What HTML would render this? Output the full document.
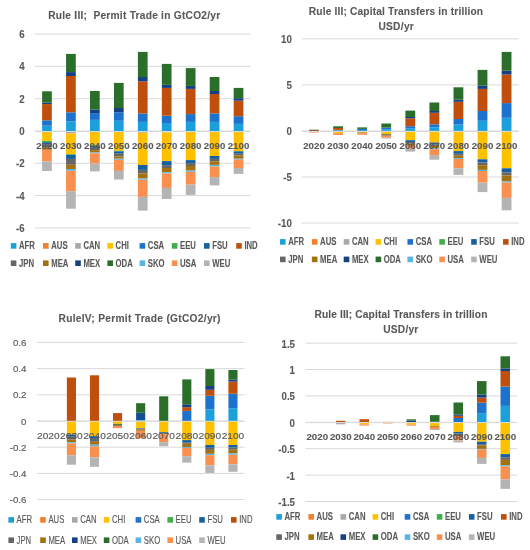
<!DOCTYPE html>
<html><head><meta charset="utf-8"><title>Charts</title>
<style>
html,body{margin:0;padding:0;background:#fff;}
body{width:530px;height:550px;overflow:hidden;}
svg{display:block;font-family:"Liberation Sans",sans-serif;}
svg{will-change:transform;}
</style></head>
<body>
<svg width="530" height="550" viewBox="0 0 530 550">
<defs><filter id="soft" x="0" y="0" width="100%" height="100%"><feGaussianBlur stdDeviation="0.35"/></filter></defs>
<rect x="0" y="0" width="530" height="550" fill="#ffffff"/>
<g filter="url(#soft)">
<rect x="0" y="0" width="530" height="550" fill="#ffffff"/>
<rect x="35.00" y="33.60" width="215.50" height="1" fill="#d9d9d9"/>
<rect x="35.00" y="65.90" width="215.50" height="1" fill="#d9d9d9"/>
<rect x="35.00" y="98.20" width="215.50" height="1" fill="#d9d9d9"/>
<rect x="35.00" y="130.50" width="215.50" height="1" fill="#d9d9d9"/>
<rect x="35.00" y="162.80" width="215.50" height="1" fill="#d9d9d9"/>
<rect x="35.00" y="195.10" width="215.50" height="1" fill="#d9d9d9"/>
<rect x="35.00" y="227.40" width="215.50" height="1" fill="#d9d9d9"/>
<rect x="42.12" y="125.70" width="9.70" height="5.30" fill="#1ea0dc"/>
<rect x="42.12" y="120.30" width="9.70" height="5.40" fill="#1f72cc"/>
<rect x="42.12" y="104.10" width="9.70" height="16.20" fill="#c05008"/>
<rect x="42.12" y="102.50" width="9.70" height="1.60" fill="#143f84"/>
<rect x="42.12" y="91.30" width="9.70" height="11.20" fill="#2a6e2a"/>
<rect x="42.12" y="131.00" width="9.70" height="10.00" fill="#ffc000"/>
<rect x="42.12" y="141.00" width="9.70" height="1.20" fill="#3fae49"/>
<rect x="42.12" y="142.20" width="9.70" height="2.40" fill="#13609f"/>
<rect x="42.12" y="144.60" width="9.70" height="2.80" fill="#666666"/>
<rect x="42.12" y="147.40" width="9.70" height="2.40" fill="#a3710c"/>
<rect x="42.12" y="149.80" width="9.70" height="11.70" fill="#f9904f"/>
<rect x="42.12" y="161.50" width="9.70" height="9.50" fill="#b4b4b4"/>
<rect x="66.07" y="121.40" width="9.70" height="9.60" fill="#1ea0dc"/>
<rect x="66.07" y="112.30" width="9.70" height="9.10" fill="#1f72cc"/>
<rect x="66.07" y="76.00" width="9.70" height="36.30" fill="#c05008"/>
<rect x="66.07" y="72.10" width="9.70" height="3.90" fill="#143f84"/>
<rect x="66.07" y="53.90" width="9.70" height="18.20" fill="#2a6e2a"/>
<rect x="66.07" y="131.00" width="9.70" height="2.50" fill="#a8a8a8"/>
<rect x="66.07" y="133.50" width="9.70" height="20.70" fill="#ffc000"/>
<rect x="66.07" y="154.20" width="9.70" height="0.80" fill="#3fae49"/>
<rect x="66.07" y="155.00" width="9.70" height="3.90" fill="#13609f"/>
<rect x="66.07" y="158.90" width="9.70" height="5.90" fill="#666666"/>
<rect x="66.07" y="164.80" width="9.70" height="4.20" fill="#a3710c"/>
<rect x="66.07" y="169.00" width="9.70" height="1.80" fill="#5cb4e6"/>
<rect x="66.07" y="170.80" width="9.70" height="20.40" fill="#f9904f"/>
<rect x="66.07" y="191.20" width="9.70" height="17.50" fill="#b4b4b4"/>
<rect x="90.01" y="119.90" width="9.70" height="11.10" fill="#1ea0dc"/>
<rect x="90.01" y="113.10" width="9.70" height="6.80" fill="#1f72cc"/>
<rect x="90.01" y="109.50" width="9.70" height="3.60" fill="#143f84"/>
<rect x="90.01" y="91.00" width="9.70" height="18.50" fill="#2a6e2a"/>
<rect x="90.01" y="131.00" width="9.70" height="14.10" fill="#ffc000"/>
<rect x="90.01" y="145.10" width="9.70" height="0.90" fill="#3fae49"/>
<rect x="90.01" y="146.00" width="9.70" height="1.40" fill="#13609f"/>
<rect x="90.01" y="147.40" width="9.70" height="2.70" fill="#666666"/>
<rect x="90.01" y="150.10" width="9.70" height="2.30" fill="#a3710c"/>
<rect x="90.01" y="152.40" width="9.70" height="0.90" fill="#5cb4e6"/>
<rect x="90.01" y="153.30" width="9.70" height="10.20" fill="#f9904f"/>
<rect x="90.01" y="163.50" width="9.70" height="7.90" fill="#b4b4b4"/>
<rect x="113.96" y="120.80" width="9.70" height="10.20" fill="#1ea0dc"/>
<rect x="113.96" y="112.30" width="9.70" height="8.50" fill="#1f72cc"/>
<rect x="113.96" y="108.00" width="9.70" height="4.30" fill="#143f84"/>
<rect x="113.96" y="82.90" width="9.70" height="25.10" fill="#2a6e2a"/>
<rect x="113.96" y="131.00" width="9.70" height="19.70" fill="#ffc000"/>
<rect x="113.96" y="150.70" width="9.70" height="0.60" fill="#3fae49"/>
<rect x="113.96" y="151.30" width="9.70" height="2.40" fill="#13609f"/>
<rect x="113.96" y="153.70" width="9.70" height="2.80" fill="#666666"/>
<rect x="113.96" y="156.50" width="9.70" height="2.20" fill="#a3710c"/>
<rect x="113.96" y="158.70" width="9.70" height="1.10" fill="#5cb4e6"/>
<rect x="113.96" y="159.80" width="9.70" height="11.10" fill="#f9904f"/>
<rect x="113.96" y="170.90" width="9.70" height="8.60" fill="#b4b4b4"/>
<rect x="137.90" y="121.90" width="9.70" height="9.10" fill="#1ea0dc"/>
<rect x="137.90" y="113.40" width="9.70" height="8.50" fill="#1f72cc"/>
<rect x="137.90" y="81.40" width="9.70" height="32.00" fill="#c05008"/>
<rect x="137.90" y="77.00" width="9.70" height="4.40" fill="#143f84"/>
<rect x="137.90" y="51.90" width="9.70" height="25.10" fill="#2a6e2a"/>
<rect x="137.90" y="131.00" width="9.70" height="1.80" fill="#a8a8a8"/>
<rect x="137.90" y="132.80" width="9.70" height="32.20" fill="#ffc000"/>
<rect x="137.90" y="165.00" width="9.70" height="4.90" fill="#13609f"/>
<rect x="137.90" y="169.90" width="9.70" height="3.60" fill="#666666"/>
<rect x="137.90" y="173.50" width="9.70" height="5.00" fill="#a3710c"/>
<rect x="137.90" y="178.50" width="9.70" height="1.30" fill="#5cb4e6"/>
<rect x="137.90" y="179.80" width="9.70" height="17.10" fill="#f9904f"/>
<rect x="137.90" y="196.90" width="9.70" height="13.70" fill="#b4b4b4"/>
<rect x="161.84" y="123.00" width="9.70" height="8.00" fill="#1ea0dc"/>
<rect x="161.84" y="115.70" width="9.70" height="7.30" fill="#1f72cc"/>
<rect x="161.84" y="87.90" width="9.70" height="27.80" fill="#c05008"/>
<rect x="161.84" y="84.80" width="9.70" height="3.10" fill="#143f84"/>
<rect x="161.84" y="63.90" width="9.70" height="20.90" fill="#2a6e2a"/>
<rect x="161.84" y="131.00" width="9.70" height="1.50" fill="#a8a8a8"/>
<rect x="161.84" y="132.50" width="9.70" height="28.60" fill="#ffc000"/>
<rect x="161.84" y="161.10" width="9.70" height="4.00" fill="#13609f"/>
<rect x="161.84" y="165.10" width="9.70" height="2.90" fill="#666666"/>
<rect x="161.84" y="168.00" width="9.70" height="4.20" fill="#a3710c"/>
<rect x="161.84" y="172.20" width="9.70" height="1.30" fill="#5cb4e6"/>
<rect x="161.84" y="173.50" width="9.70" height="14.40" fill="#f9904f"/>
<rect x="161.84" y="187.90" width="9.70" height="11.10" fill="#b4b4b4"/>
<rect x="185.79" y="121.90" width="9.70" height="9.10" fill="#1ea0dc"/>
<rect x="185.79" y="114.10" width="9.70" height="7.80" fill="#1f72cc"/>
<rect x="185.79" y="88.90" width="9.70" height="25.20" fill="#c05008"/>
<rect x="185.79" y="85.90" width="9.70" height="3.00" fill="#143f84"/>
<rect x="185.79" y="68.10" width="9.70" height="17.80" fill="#2a6e2a"/>
<rect x="185.79" y="131.00" width="9.70" height="29.10" fill="#ffc000"/>
<rect x="185.79" y="160.10" width="9.70" height="3.00" fill="#13609f"/>
<rect x="185.79" y="163.10" width="9.70" height="2.90" fill="#666666"/>
<rect x="185.79" y="166.00" width="9.70" height="4.50" fill="#a3710c"/>
<rect x="185.79" y="170.50" width="9.70" height="1.40" fill="#5cb4e6"/>
<rect x="185.79" y="171.90" width="9.70" height="12.70" fill="#f9904f"/>
<rect x="185.79" y="184.60" width="9.70" height="10.30" fill="#b4b4b4"/>
<rect x="209.73" y="121.90" width="9.70" height="9.10" fill="#1ea0dc"/>
<rect x="209.73" y="113.40" width="9.70" height="8.50" fill="#1f72cc"/>
<rect x="209.73" y="94.00" width="9.70" height="19.40" fill="#c05008"/>
<rect x="209.73" y="91.00" width="9.70" height="3.00" fill="#143f84"/>
<rect x="209.73" y="77.00" width="9.70" height="14.00" fill="#2a6e2a"/>
<rect x="209.73" y="131.00" width="9.70" height="25.00" fill="#ffc000"/>
<rect x="209.73" y="156.00" width="9.70" height="2.90" fill="#13609f"/>
<rect x="209.73" y="158.90" width="9.70" height="2.40" fill="#666666"/>
<rect x="209.73" y="161.30" width="9.70" height="3.60" fill="#a3710c"/>
<rect x="209.73" y="164.90" width="9.70" height="1.60" fill="#5cb4e6"/>
<rect x="209.73" y="166.50" width="9.70" height="10.60" fill="#f9904f"/>
<rect x="209.73" y="177.10" width="9.70" height="8.30" fill="#b4b4b4"/>
<rect x="233.68" y="123.90" width="9.70" height="7.10" fill="#1ea0dc"/>
<rect x="233.68" y="116.20" width="9.70" height="7.70" fill="#1f72cc"/>
<rect x="233.68" y="100.70" width="9.70" height="15.50" fill="#c05008"/>
<rect x="233.68" y="98.20" width="9.70" height="2.50" fill="#143f84"/>
<rect x="233.68" y="87.90" width="9.70" height="10.30" fill="#2a6e2a"/>
<rect x="233.68" y="131.00" width="9.70" height="20.30" fill="#ffc000"/>
<rect x="233.68" y="151.30" width="9.70" height="2.40" fill="#13609f"/>
<rect x="233.68" y="153.70" width="9.70" height="1.80" fill="#666666"/>
<rect x="233.68" y="155.50" width="9.70" height="3.20" fill="#a3710c"/>
<rect x="233.68" y="158.70" width="9.70" height="0.90" fill="#5cb4e6"/>
<rect x="233.68" y="159.60" width="9.70" height="8.40" fill="#f9904f"/>
<rect x="233.68" y="168.00" width="9.70" height="5.90" fill="#b4b4b4"/>
<rect x="35.00" y="131.00" width="215.50" height="1.10" fill="#d9d9d9"/>
<text x="24.60" y="38.16" font-size="10.5" font-weight="bold" stroke="#595959" stroke-width="0.1" text-anchor="end" textLength="5.4" lengthAdjust="spacingAndGlyphs" fill="#595959">6</text>
<text x="24.60" y="70.46" font-size="10.5" font-weight="bold" stroke="#595959" stroke-width="0.1" text-anchor="end" textLength="5.4" lengthAdjust="spacingAndGlyphs" fill="#595959">4</text>
<text x="24.60" y="102.76" font-size="10.5" font-weight="bold" stroke="#595959" stroke-width="0.1" text-anchor="end" textLength="5.4" lengthAdjust="spacingAndGlyphs" fill="#595959">2</text>
<text x="24.60" y="135.06" font-size="10.5" font-weight="bold" stroke="#595959" stroke-width="0.1" text-anchor="end" textLength="5.4" lengthAdjust="spacingAndGlyphs" fill="#595959">0</text>
<text x="24.60" y="167.36" font-size="10.5" font-weight="bold" stroke="#595959" stroke-width="0.1" text-anchor="end" textLength="8.6" lengthAdjust="spacingAndGlyphs" fill="#595959">-2</text>
<text x="24.60" y="199.66" font-size="10.5" font-weight="bold" stroke="#595959" stroke-width="0.1" text-anchor="end" textLength="8.6" lengthAdjust="spacingAndGlyphs" fill="#595959">-4</text>
<text x="24.60" y="231.96" font-size="10.5" font-weight="bold" stroke="#595959" stroke-width="0.1" text-anchor="end" textLength="8.6" lengthAdjust="spacingAndGlyphs" fill="#595959">-6</text>
<text x="46.97" y="149.00" font-size="9.4" font-weight="bold" stroke="#595959" stroke-width="0.1" text-anchor="middle" textLength="21.6" lengthAdjust="spacingAndGlyphs" fill="#595959">2020</text>
<text x="70.92" y="149.00" font-size="9.4" font-weight="bold" stroke="#595959" stroke-width="0.1" text-anchor="middle" textLength="21.6" lengthAdjust="spacingAndGlyphs" fill="#595959">2030</text>
<text x="94.86" y="149.00" font-size="9.4" font-weight="bold" stroke="#595959" stroke-width="0.1" text-anchor="middle" textLength="21.6" lengthAdjust="spacingAndGlyphs" fill="#595959">2040</text>
<text x="118.81" y="149.00" font-size="9.4" font-weight="bold" stroke="#595959" stroke-width="0.1" text-anchor="middle" textLength="21.6" lengthAdjust="spacingAndGlyphs" fill="#595959">2050</text>
<text x="142.75" y="149.00" font-size="9.4" font-weight="bold" stroke="#595959" stroke-width="0.1" text-anchor="middle" textLength="21.6" lengthAdjust="spacingAndGlyphs" fill="#595959">2060</text>
<text x="166.69" y="149.00" font-size="9.4" font-weight="bold" stroke="#595959" stroke-width="0.1" text-anchor="middle" textLength="21.6" lengthAdjust="spacingAndGlyphs" fill="#595959">2070</text>
<text x="190.64" y="149.00" font-size="9.4" font-weight="bold" stroke="#595959" stroke-width="0.1" text-anchor="middle" textLength="21.6" lengthAdjust="spacingAndGlyphs" fill="#595959">2080</text>
<text x="214.58" y="149.00" font-size="9.4" font-weight="bold" stroke="#595959" stroke-width="0.1" text-anchor="middle" textLength="21.6" lengthAdjust="spacingAndGlyphs" fill="#595959">2090</text>
<text x="238.53" y="149.00" font-size="9.4" font-weight="bold" stroke="#595959" stroke-width="0.1" text-anchor="middle" textLength="21.6" lengthAdjust="spacingAndGlyphs" fill="#595959">2100</text>
<text x="48.20" y="18.60" font-size="10.2" font-weight="bold" stroke="#595959" stroke-width="0.1" text-anchor="start" textLength="172.0" lengthAdjust="spacing" fill="#595959">Rule III;&#160; Permit Trade in GtCO2/yr</text>
<rect x="10.80" y="243.10" width="5.60" height="5.60" fill="#1ea0dc"/>
<text x="19.00" y="249.20" font-size="10" font-weight="bold" stroke="#595959" stroke-width="0.1" text-anchor="start" textLength="15.9" lengthAdjust="spacingAndGlyphs" fill="#595959">AFR</text>
<rect x="43.00" y="243.10" width="5.60" height="5.60" fill="#f27f2a"/>
<text x="51.20" y="249.20" font-size="10" font-weight="bold" stroke="#595959" stroke-width="0.1" text-anchor="start" textLength="16.4" lengthAdjust="spacingAndGlyphs" fill="#595959">AUS</text>
<rect x="75.20" y="243.10" width="5.60" height="5.60" fill="#a8a8a8"/>
<text x="83.40" y="249.20" font-size="10" font-weight="bold" stroke="#595959" stroke-width="0.1" text-anchor="start" textLength="16.8" lengthAdjust="spacingAndGlyphs" fill="#595959">CAN</text>
<rect x="107.40" y="243.10" width="5.60" height="5.60" fill="#ffc000"/>
<text x="115.60" y="249.20" font-size="10" font-weight="bold" stroke="#595959" stroke-width="0.1" text-anchor="start" textLength="13.3" lengthAdjust="spacingAndGlyphs" fill="#595959">CHI</text>
<rect x="139.60" y="243.10" width="5.60" height="5.60" fill="#1f72cc"/>
<text x="147.80" y="249.20" font-size="10" font-weight="bold" stroke="#595959" stroke-width="0.1" text-anchor="start" textLength="16.4" lengthAdjust="spacingAndGlyphs" fill="#595959">CSA</text>
<rect x="171.80" y="243.10" width="5.60" height="5.60" fill="#3fae49"/>
<text x="180.00" y="249.20" font-size="10" font-weight="bold" stroke="#595959" stroke-width="0.1" text-anchor="start" textLength="15.9" lengthAdjust="spacingAndGlyphs" fill="#595959">EEU</text>
<rect x="204.00" y="243.10" width="5.60" height="5.60" fill="#13609f"/>
<text x="212.20" y="249.20" font-size="10" font-weight="bold" stroke="#595959" stroke-width="0.1" text-anchor="start" textLength="15.5" lengthAdjust="spacingAndGlyphs" fill="#595959">FSU</text>
<rect x="236.20" y="243.10" width="5.60" height="5.60" fill="#c05008"/>
<text x="244.40" y="249.20" font-size="10" font-weight="bold" stroke="#595959" stroke-width="0.1" text-anchor="start" textLength="13.3" lengthAdjust="spacingAndGlyphs" fill="#595959">IND</text>
<rect x="10.80" y="260.40" width="5.60" height="5.60" fill="#666666"/>
<text x="19.00" y="266.50" font-size="10" font-weight="bold" stroke="#595959" stroke-width="0.1" text-anchor="start" textLength="15.1" lengthAdjust="spacingAndGlyphs" fill="#595959">JPN</text>
<rect x="43.00" y="260.40" width="5.60" height="5.60" fill="#a3710c"/>
<text x="51.20" y="266.50" font-size="10" font-weight="bold" stroke="#595959" stroke-width="0.1" text-anchor="start" textLength="17.2" lengthAdjust="spacingAndGlyphs" fill="#595959">MEA</text>
<rect x="75.20" y="260.40" width="5.60" height="5.60" fill="#143f84"/>
<text x="83.40" y="266.50" font-size="10" font-weight="bold" stroke="#595959" stroke-width="0.1" text-anchor="start" textLength="16.8" lengthAdjust="spacingAndGlyphs" fill="#595959">MEX</text>
<rect x="107.40" y="260.40" width="5.60" height="5.60" fill="#2a6e2a"/>
<text x="115.60" y="266.50" font-size="10" font-weight="bold" stroke="#595959" stroke-width="0.1" text-anchor="start" textLength="17.2" lengthAdjust="spacingAndGlyphs" fill="#595959">ODA</text>
<rect x="139.60" y="260.40" width="5.60" height="5.60" fill="#5cb4e6"/>
<text x="147.80" y="266.50" font-size="10" font-weight="bold" stroke="#595959" stroke-width="0.1" text-anchor="start" textLength="16.8" lengthAdjust="spacingAndGlyphs" fill="#595959">SKO</text>
<rect x="171.80" y="260.40" width="5.60" height="5.60" fill="#f9904f"/>
<text x="180.00" y="266.50" font-size="10" font-weight="bold" stroke="#595959" stroke-width="0.1" text-anchor="start" textLength="16.4" lengthAdjust="spacingAndGlyphs" fill="#595959">USA</text>
<rect x="204.00" y="260.40" width="5.60" height="5.60" fill="#b4b4b4"/>
<text x="212.20" y="266.50" font-size="10" font-weight="bold" stroke="#595959" stroke-width="0.1" text-anchor="start" textLength="18.1" lengthAdjust="spacingAndGlyphs" fill="#595959">WEU</text>
<rect x="302.00" y="38.35" width="216.60" height="1" fill="#d9d9d9"/>
<rect x="302.00" y="84.40" width="216.60" height="1" fill="#d9d9d9"/>
<rect x="302.00" y="130.45" width="216.60" height="1" fill="#d9d9d9"/>
<rect x="302.00" y="176.50" width="216.60" height="1" fill="#d9d9d9"/>
<rect x="302.00" y="222.55" width="216.60" height="1" fill="#d9d9d9"/>
<rect x="309.13" y="130.00" width="9.80" height="0.95" fill="#7d5034"/>
<rect x="309.13" y="129.20" width="9.80" height="0.80" fill="#b9cba0"/>
<rect x="309.13" y="130.95" width="9.80" height="1.85" fill="#f5ae88"/>
<rect x="333.20" y="130.50" width="9.80" height="0.45" fill="#1ea0dc"/>
<rect x="333.20" y="129.90" width="9.80" height="0.60" fill="#1f72cc"/>
<rect x="333.20" y="128.00" width="9.80" height="1.90" fill="#c05008"/>
<rect x="333.20" y="126.30" width="9.80" height="1.70" fill="#2a6e2a"/>
<rect x="333.20" y="130.95" width="9.80" height="2.25" fill="#ffc000"/>
<rect x="333.20" y="133.20" width="9.80" height="1.80" fill="#f9904f"/>
<rect x="357.27" y="130.00" width="9.80" height="0.95" fill="#1ea0dc"/>
<rect x="357.27" y="128.90" width="9.80" height="1.10" fill="#1f72cc"/>
<rect x="357.27" y="127.40" width="9.80" height="1.50" fill="#2a6e2a"/>
<rect x="357.27" y="130.95" width="9.80" height="1.55" fill="#ffc000"/>
<rect x="357.27" y="132.50" width="9.80" height="0.70" fill="#a3710c"/>
<rect x="357.27" y="133.20" width="9.80" height="1.60" fill="#f9904f"/>
<rect x="381.33" y="129.30" width="9.80" height="1.65" fill="#1ea0dc"/>
<rect x="381.33" y="127.60" width="9.80" height="1.70" fill="#1f72cc"/>
<rect x="381.33" y="123.50" width="9.80" height="4.10" fill="#2a6e2a"/>
<rect x="381.33" y="130.95" width="9.80" height="0.95" fill="#a8a8a8"/>
<rect x="381.33" y="131.90" width="9.80" height="2.00" fill="#ffc000"/>
<rect x="381.33" y="133.90" width="9.80" height="1.90" fill="#8c7d52"/>
<rect x="381.33" y="135.80" width="9.80" height="1.90" fill="#f9904f"/>
<rect x="381.33" y="137.70" width="9.80" height="0.80" fill="#b4b4b4"/>
<rect x="405.40" y="128.20" width="9.80" height="2.75" fill="#1ea0dc"/>
<rect x="405.40" y="126.20" width="9.80" height="2.00" fill="#1f72cc"/>
<rect x="405.40" y="118.30" width="9.80" height="7.90" fill="#c05008"/>
<rect x="405.40" y="117.00" width="9.80" height="1.30" fill="#143f84"/>
<rect x="405.40" y="110.60" width="9.80" height="6.40" fill="#2a6e2a"/>
<rect x="405.40" y="130.95" width="9.80" height="9.25" fill="#ffc000"/>
<rect x="405.40" y="140.20" width="9.80" height="1.80" fill="#13609f"/>
<rect x="405.40" y="142.00" width="9.80" height="1.50" fill="#666666"/>
<rect x="405.40" y="143.50" width="9.80" height="1.50" fill="#a3710c"/>
<rect x="405.40" y="145.00" width="9.80" height="3.80" fill="#f9904f"/>
<rect x="405.40" y="148.80" width="9.80" height="2.80" fill="#b4b4b4"/>
<rect x="429.47" y="127.30" width="9.80" height="3.65" fill="#1ea0dc"/>
<rect x="429.47" y="124.30" width="9.80" height="3.00" fill="#1f72cc"/>
<rect x="429.47" y="112.80" width="9.80" height="11.50" fill="#c05008"/>
<rect x="429.47" y="111.00" width="9.80" height="1.80" fill="#143f84"/>
<rect x="429.47" y="102.50" width="9.80" height="8.50" fill="#2a6e2a"/>
<rect x="429.47" y="130.95" width="9.80" height="11.55" fill="#ffc000"/>
<rect x="429.47" y="142.50" width="9.80" height="2.00" fill="#13609f"/>
<rect x="429.47" y="144.50" width="9.80" height="1.50" fill="#666666"/>
<rect x="429.47" y="146.00" width="9.80" height="2.30" fill="#a3710c"/>
<rect x="429.47" y="148.30" width="9.80" height="0.90" fill="#5cb4e6"/>
<rect x="429.47" y="149.20" width="9.80" height="5.90" fill="#f9904f"/>
<rect x="429.47" y="155.10" width="9.80" height="4.60" fill="#b4b4b4"/>
<rect x="453.53" y="124.60" width="9.80" height="6.35" fill="#1ea0dc"/>
<rect x="453.53" y="119.00" width="9.80" height="5.60" fill="#1f72cc"/>
<rect x="453.53" y="101.80" width="9.80" height="17.20" fill="#c05008"/>
<rect x="453.53" y="99.60" width="9.80" height="2.20" fill="#143f84"/>
<rect x="453.53" y="87.30" width="9.80" height="12.30" fill="#2a6e2a"/>
<rect x="453.53" y="130.95" width="9.80" height="20.15" fill="#ffc000"/>
<rect x="453.53" y="151.10" width="9.80" height="2.70" fill="#13609f"/>
<rect x="453.53" y="153.80" width="9.80" height="1.90" fill="#666666"/>
<rect x="453.53" y="155.70" width="9.80" height="2.40" fill="#a3710c"/>
<rect x="453.53" y="158.10" width="9.80" height="0.90" fill="#5cb4e6"/>
<rect x="453.53" y="159.00" width="9.80" height="9.30" fill="#f9904f"/>
<rect x="453.53" y="168.30" width="9.80" height="6.60" fill="#b4b4b4"/>
<rect x="477.60" y="120.80" width="9.80" height="10.15" fill="#1ea0dc"/>
<rect x="477.60" y="111.00" width="9.80" height="9.80" fill="#1f72cc"/>
<rect x="477.60" y="88.90" width="9.80" height="22.10" fill="#c05008"/>
<rect x="477.60" y="85.60" width="9.80" height="3.30" fill="#143f84"/>
<rect x="477.60" y="69.90" width="9.80" height="15.70" fill="#2a6e2a"/>
<rect x="477.60" y="130.95" width="9.80" height="28.35" fill="#ffc000"/>
<rect x="477.60" y="159.30" width="9.80" height="3.20" fill="#13609f"/>
<rect x="477.60" y="162.50" width="9.80" height="2.70" fill="#666666"/>
<rect x="477.60" y="165.20" width="9.80" height="4.70" fill="#a3710c"/>
<rect x="477.60" y="169.90" width="9.80" height="1.10" fill="#5cb4e6"/>
<rect x="477.60" y="171.00" width="9.80" height="11.60" fill="#f9904f"/>
<rect x="477.60" y="182.60" width="9.80" height="9.50" fill="#b4b4b4"/>
<rect x="501.67" y="117.80" width="9.80" height="13.15" fill="#1ea0dc"/>
<rect x="501.67" y="103.10" width="9.80" height="14.70" fill="#1f72cc"/>
<rect x="501.67" y="74.50" width="9.80" height="28.60" fill="#c05008"/>
<rect x="501.67" y="70.70" width="9.80" height="3.80" fill="#143f84"/>
<rect x="501.67" y="51.90" width="9.80" height="18.80" fill="#2a6e2a"/>
<rect x="501.67" y="130.95" width="9.80" height="37.35" fill="#ffc000"/>
<rect x="501.67" y="168.30" width="9.80" height="4.00" fill="#13609f"/>
<rect x="501.67" y="172.30" width="9.80" height="3.20" fill="#666666"/>
<rect x="501.67" y="175.50" width="9.80" height="6.00" fill="#a3710c"/>
<rect x="501.67" y="181.50" width="9.80" height="1.10" fill="#5cb4e6"/>
<rect x="501.67" y="182.60" width="9.80" height="15.30" fill="#f9904f"/>
<rect x="501.67" y="197.90" width="9.80" height="12.40" fill="#b4b4b4"/>
<rect x="302.00" y="130.95" width="216.60" height="1.00" fill="#d9d9d9"/>
<text x="291.80" y="42.61" font-size="10.5" font-weight="bold" stroke="#595959" stroke-width="0.1" text-anchor="end" textLength="10.8" lengthAdjust="spacingAndGlyphs" fill="#595959">10</text>
<text x="291.80" y="88.66" font-size="10.5" font-weight="bold" stroke="#595959" stroke-width="0.1" text-anchor="end" textLength="5.4" lengthAdjust="spacingAndGlyphs" fill="#595959">5</text>
<text x="291.80" y="134.71" font-size="10.5" font-weight="bold" stroke="#595959" stroke-width="0.1" text-anchor="end" textLength="5.4" lengthAdjust="spacingAndGlyphs" fill="#595959">0</text>
<text x="291.80" y="180.76" font-size="10.5" font-weight="bold" stroke="#595959" stroke-width="0.1" text-anchor="end" textLength="8.6" lengthAdjust="spacingAndGlyphs" fill="#595959">-5</text>
<text x="291.80" y="226.81" font-size="10.5" font-weight="bold" stroke="#595959" stroke-width="0.1" text-anchor="end" textLength="14.0" lengthAdjust="spacingAndGlyphs" fill="#595959">-10</text>
<text x="314.03" y="149.00" font-size="9.4" font-weight="bold" stroke="#595959" stroke-width="0.1" text-anchor="middle" textLength="21.6" lengthAdjust="spacingAndGlyphs" fill="#595959">2020</text>
<text x="338.10" y="149.00" font-size="9.4" font-weight="bold" stroke="#595959" stroke-width="0.1" text-anchor="middle" textLength="21.6" lengthAdjust="spacingAndGlyphs" fill="#595959">2030</text>
<text x="362.17" y="149.00" font-size="9.4" font-weight="bold" stroke="#595959" stroke-width="0.1" text-anchor="middle" textLength="21.6" lengthAdjust="spacingAndGlyphs" fill="#595959">2040</text>
<text x="386.23" y="149.00" font-size="9.4" font-weight="bold" stroke="#595959" stroke-width="0.1" text-anchor="middle" textLength="21.6" lengthAdjust="spacingAndGlyphs" fill="#595959">2050</text>
<text x="410.30" y="149.00" font-size="9.4" font-weight="bold" stroke="#595959" stroke-width="0.1" text-anchor="middle" textLength="21.6" lengthAdjust="spacingAndGlyphs" fill="#595959">2060</text>
<text x="434.37" y="149.00" font-size="9.4" font-weight="bold" stroke="#595959" stroke-width="0.1" text-anchor="middle" textLength="21.6" lengthAdjust="spacingAndGlyphs" fill="#595959">2070</text>
<text x="458.43" y="149.00" font-size="9.4" font-weight="bold" stroke="#595959" stroke-width="0.1" text-anchor="middle" textLength="21.6" lengthAdjust="spacingAndGlyphs" fill="#595959">2080</text>
<text x="482.50" y="149.00" font-size="9.4" font-weight="bold" stroke="#595959" stroke-width="0.1" text-anchor="middle" textLength="21.6" lengthAdjust="spacingAndGlyphs" fill="#595959">2090</text>
<text x="506.57" y="149.00" font-size="9.4" font-weight="bold" stroke="#595959" stroke-width="0.1" text-anchor="middle" textLength="21.6" lengthAdjust="spacingAndGlyphs" fill="#595959">2100</text>
<text x="308.80" y="14.90" font-size="10.2" font-weight="bold" stroke="#595959" stroke-width="0.1" text-anchor="start" textLength="174.2" lengthAdjust="spacing" fill="#595959">Rule III; Capital Transfers in trillion</text>
<text x="378.40" y="30.20" font-size="10.2" font-weight="bold" stroke="#595959" stroke-width="0.1" text-anchor="start" textLength="35.4" lengthAdjust="spacing" fill="#595959">USD/yr</text>
<rect x="280.00" y="239.10" width="5.60" height="5.60" fill="#1ea0dc"/>
<text x="288.20" y="245.20" font-size="10" font-weight="bold" stroke="#595959" stroke-width="0.1" text-anchor="start" textLength="15.9" lengthAdjust="spacingAndGlyphs" fill="#595959">AFR</text>
<rect x="311.86" y="239.10" width="5.60" height="5.60" fill="#f27f2a"/>
<text x="320.06" y="245.20" font-size="10" font-weight="bold" stroke="#595959" stroke-width="0.1" text-anchor="start" textLength="16.4" lengthAdjust="spacingAndGlyphs" fill="#595959">AUS</text>
<rect x="343.72" y="239.10" width="5.60" height="5.60" fill="#a8a8a8"/>
<text x="351.92" y="245.20" font-size="10" font-weight="bold" stroke="#595959" stroke-width="0.1" text-anchor="start" textLength="16.8" lengthAdjust="spacingAndGlyphs" fill="#595959">CAN</text>
<rect x="375.58" y="239.10" width="5.60" height="5.60" fill="#ffc000"/>
<text x="383.78" y="245.20" font-size="10" font-weight="bold" stroke="#595959" stroke-width="0.1" text-anchor="start" textLength="13.3" lengthAdjust="spacingAndGlyphs" fill="#595959">CHI</text>
<rect x="407.44" y="239.10" width="5.60" height="5.60" fill="#1f72cc"/>
<text x="415.64" y="245.20" font-size="10" font-weight="bold" stroke="#595959" stroke-width="0.1" text-anchor="start" textLength="16.4" lengthAdjust="spacingAndGlyphs" fill="#595959">CSA</text>
<rect x="439.30" y="239.10" width="5.60" height="5.60" fill="#3fae49"/>
<text x="447.50" y="245.20" font-size="10" font-weight="bold" stroke="#595959" stroke-width="0.1" text-anchor="start" textLength="15.9" lengthAdjust="spacingAndGlyphs" fill="#595959">EEU</text>
<rect x="471.16" y="239.10" width="5.60" height="5.60" fill="#13609f"/>
<text x="479.36" y="245.20" font-size="10" font-weight="bold" stroke="#595959" stroke-width="0.1" text-anchor="start" textLength="15.5" lengthAdjust="spacingAndGlyphs" fill="#595959">FSU</text>
<rect x="503.02" y="239.10" width="5.60" height="5.60" fill="#c05008"/>
<text x="511.22" y="245.20" font-size="10" font-weight="bold" stroke="#595959" stroke-width="0.1" text-anchor="start" textLength="13.3" lengthAdjust="spacingAndGlyphs" fill="#595959">IND</text>
<rect x="280.00" y="256.60" width="5.60" height="5.60" fill="#666666"/>
<text x="288.20" y="262.70" font-size="10" font-weight="bold" stroke="#595959" stroke-width="0.1" text-anchor="start" textLength="15.1" lengthAdjust="spacingAndGlyphs" fill="#595959">JPN</text>
<rect x="311.86" y="256.60" width="5.60" height="5.60" fill="#a3710c"/>
<text x="320.06" y="262.70" font-size="10" font-weight="bold" stroke="#595959" stroke-width="0.1" text-anchor="start" textLength="17.2" lengthAdjust="spacingAndGlyphs" fill="#595959">MEA</text>
<rect x="343.72" y="256.60" width="5.60" height="5.60" fill="#143f84"/>
<text x="351.92" y="262.70" font-size="10" font-weight="bold" stroke="#595959" stroke-width="0.1" text-anchor="start" textLength="16.8" lengthAdjust="spacingAndGlyphs" fill="#595959">MEX</text>
<rect x="375.58" y="256.60" width="5.60" height="5.60" fill="#2a6e2a"/>
<text x="383.78" y="262.70" font-size="10" font-weight="bold" stroke="#595959" stroke-width="0.1" text-anchor="start" textLength="17.2" lengthAdjust="spacingAndGlyphs" fill="#595959">ODA</text>
<rect x="407.44" y="256.60" width="5.60" height="5.60" fill="#5cb4e6"/>
<text x="415.64" y="262.70" font-size="10" font-weight="bold" stroke="#595959" stroke-width="0.1" text-anchor="start" textLength="16.8" lengthAdjust="spacingAndGlyphs" fill="#595959">SKO</text>
<rect x="439.30" y="256.60" width="5.60" height="5.60" fill="#f9904f"/>
<text x="447.50" y="262.70" font-size="10" font-weight="bold" stroke="#595959" stroke-width="0.1" text-anchor="start" textLength="16.4" lengthAdjust="spacingAndGlyphs" fill="#595959">USA</text>
<rect x="471.16" y="256.60" width="5.60" height="5.60" fill="#b4b4b4"/>
<text x="479.36" y="262.70" font-size="10" font-weight="bold" stroke="#595959" stroke-width="0.1" text-anchor="start" textLength="18.1" lengthAdjust="spacingAndGlyphs" fill="#595959">WEU</text>
<rect x="36.80" y="341.90" width="207.70" height="1" fill="#d9d9d9"/>
<rect x="36.80" y="368.10" width="207.70" height="1" fill="#d9d9d9"/>
<rect x="36.80" y="394.30" width="207.70" height="1" fill="#d9d9d9"/>
<rect x="36.80" y="420.50" width="207.70" height="1" fill="#d9d9d9"/>
<rect x="36.80" y="446.70" width="207.70" height="1" fill="#d9d9d9"/>
<rect x="36.80" y="472.90" width="207.70" height="1" fill="#d9d9d9"/>
<rect x="36.80" y="499.10" width="207.70" height="1" fill="#d9d9d9"/>
<rect x="66.87" y="377.50" width="9.10" height="43.50" fill="#c05008"/>
<rect x="66.87" y="421.00" width="9.10" height="13.50" fill="#ffc000"/>
<rect x="66.87" y="434.50" width="9.10" height="2.20" fill="#13609f"/>
<rect x="66.87" y="436.70" width="9.10" height="2.90" fill="#666666"/>
<rect x="66.87" y="439.60" width="9.10" height="2.60" fill="#a3710c"/>
<rect x="66.87" y="442.20" width="9.10" height="1.20" fill="#5cb4e6"/>
<rect x="66.87" y="443.40" width="9.10" height="11.80" fill="#f9904f"/>
<rect x="66.87" y="455.20" width="9.10" height="9.50" fill="#b4b4b4"/>
<rect x="89.94" y="375.30" width="9.10" height="45.70" fill="#c05008"/>
<rect x="89.94" y="421.00" width="9.10" height="15.20" fill="#ffc000"/>
<rect x="89.94" y="436.20" width="9.10" height="2.60" fill="#13609f"/>
<rect x="89.94" y="438.80" width="9.10" height="3.00" fill="#666666"/>
<rect x="89.94" y="441.80" width="9.10" height="2.90" fill="#a3710c"/>
<rect x="89.94" y="444.70" width="9.10" height="1.70" fill="#5cb4e6"/>
<rect x="89.94" y="446.40" width="9.10" height="11.00" fill="#f9904f"/>
<rect x="89.94" y="457.40" width="9.10" height="9.40" fill="#b4b4b4"/>
<rect x="113.02" y="413.10" width="9.10" height="7.90" fill="#c05008"/>
<rect x="113.02" y="421.00" width="9.10" height="2.90" fill="#ffc000"/>
<rect x="113.02" y="423.90" width="9.10" height="2.00" fill="#6e7640"/>
<rect x="113.02" y="425.90" width="9.10" height="2.20" fill="#f9904f"/>
<rect x="136.10" y="420.00" width="9.10" height="1.00" fill="#5cb4e6"/>
<rect x="136.10" y="412.80" width="9.10" height="7.20" fill="#134e95"/>
<rect x="136.10" y="403.20" width="9.10" height="9.60" fill="#2a6e2a"/>
<rect x="136.10" y="421.00" width="9.10" height="7.40" fill="#ffc000"/>
<rect x="136.10" y="428.40" width="9.10" height="1.00" fill="#13609f"/>
<rect x="136.10" y="429.40" width="9.10" height="1.40" fill="#a3710c"/>
<rect x="136.10" y="430.80" width="9.10" height="7.50" fill="#f9904f"/>
<rect x="159.18" y="396.30" width="9.10" height="24.70" fill="#2a6e2a"/>
<rect x="159.18" y="421.00" width="9.10" height="11.20" fill="#ffc000"/>
<rect x="159.18" y="432.20" width="9.10" height="1.00" fill="#13609f"/>
<rect x="159.18" y="433.20" width="9.10" height="1.00" fill="#a3710c"/>
<rect x="159.18" y="434.20" width="9.10" height="7.90" fill="#f9904f"/>
<rect x="159.18" y="442.10" width="9.10" height="4.20" fill="#b4b4b4"/>
<rect x="182.26" y="410.90" width="9.10" height="10.10" fill="#1f72cc"/>
<rect x="182.26" y="407.20" width="9.10" height="3.70" fill="#c05008"/>
<rect x="182.26" y="404.30" width="9.10" height="2.90" fill="#143f84"/>
<rect x="182.26" y="379.40" width="9.10" height="24.90" fill="#2a6e2a"/>
<rect x="182.26" y="421.00" width="9.10" height="19.10" fill="#ffc000"/>
<rect x="182.26" y="440.10" width="9.10" height="2.60" fill="#13609f"/>
<rect x="182.26" y="442.70" width="9.10" height="1.10" fill="#666666"/>
<rect x="182.26" y="443.80" width="9.10" height="3.30" fill="#a3710c"/>
<rect x="182.26" y="447.10" width="9.10" height="0.90" fill="#5cb4e6"/>
<rect x="182.26" y="448.00" width="9.10" height="8.20" fill="#f9904f"/>
<rect x="182.26" y="456.20" width="9.10" height="6.40" fill="#b4b4b4"/>
<rect x="205.33" y="409.40" width="9.10" height="11.60" fill="#1ea0dc"/>
<rect x="205.33" y="395.80" width="9.10" height="13.60" fill="#1f72cc"/>
<rect x="205.33" y="389.80" width="9.10" height="6.00" fill="#c05008"/>
<rect x="205.33" y="386.00" width="9.10" height="3.80" fill="#143f84"/>
<rect x="205.33" y="369.10" width="9.10" height="16.90" fill="#2a6e2a"/>
<rect x="205.33" y="421.00" width="9.10" height="24.00" fill="#ffc000"/>
<rect x="205.33" y="445.00" width="9.10" height="2.80" fill="#13609f"/>
<rect x="205.33" y="447.80" width="9.10" height="2.10" fill="#666666"/>
<rect x="205.33" y="449.90" width="9.10" height="3.90" fill="#a3710c"/>
<rect x="205.33" y="453.80" width="9.10" height="1.40" fill="#5cb4e6"/>
<rect x="205.33" y="455.20" width="9.10" height="10.20" fill="#f9904f"/>
<rect x="205.33" y="465.40" width="9.10" height="7.50" fill="#b4b4b4"/>
<rect x="228.41" y="408.20" width="9.10" height="12.80" fill="#1ea0dc"/>
<rect x="228.41" y="393.70" width="9.10" height="14.50" fill="#1f72cc"/>
<rect x="228.41" y="381.60" width="9.10" height="12.10" fill="#c05008"/>
<rect x="228.41" y="379.50" width="9.10" height="2.10" fill="#143f84"/>
<rect x="228.41" y="370.00" width="9.10" height="9.50" fill="#2a6e2a"/>
<rect x="228.41" y="421.00" width="9.10" height="24.00" fill="#ffc000"/>
<rect x="228.41" y="445.00" width="9.10" height="2.50" fill="#13609f"/>
<rect x="228.41" y="447.50" width="9.10" height="2.20" fill="#666666"/>
<rect x="228.41" y="449.70" width="9.10" height="3.70" fill="#a3710c"/>
<rect x="228.41" y="453.40" width="9.10" height="1.40" fill="#5cb4e6"/>
<rect x="228.41" y="454.80" width="9.10" height="9.50" fill="#f9904f"/>
<rect x="228.41" y="464.30" width="9.10" height="7.50" fill="#b4b4b4"/>
<rect x="36.80" y="420.80" width="207.70" height="1.00" fill="#d9d9d9"/>
<text x="26.40" y="346.00" font-size="9.5" stroke="#595959" stroke-width="0.15" text-anchor="end" textLength="13.5" lengthAdjust="spacingAndGlyphs" fill="#595959">0.6</text>
<text x="26.40" y="372.20" font-size="9.5" stroke="#595959" stroke-width="0.15" text-anchor="end" textLength="13.5" lengthAdjust="spacingAndGlyphs" fill="#595959">0.4</text>
<text x="26.40" y="398.40" font-size="9.5" stroke="#595959" stroke-width="0.15" text-anchor="end" textLength="13.5" lengthAdjust="spacingAndGlyphs" fill="#595959">0.2</text>
<text x="26.40" y="424.60" font-size="9.5" stroke="#595959" stroke-width="0.15" text-anchor="end" textLength="5.4" lengthAdjust="spacingAndGlyphs" fill="#595959">0</text>
<text x="26.40" y="450.80" font-size="9.5" stroke="#595959" stroke-width="0.15" text-anchor="end" textLength="16.7" lengthAdjust="spacingAndGlyphs" fill="#595959">-0.2</text>
<text x="26.40" y="477.00" font-size="9.5" stroke="#595959" stroke-width="0.15" text-anchor="end" textLength="16.7" lengthAdjust="spacingAndGlyphs" fill="#595959">-0.4</text>
<text x="26.40" y="503.20" font-size="9.5" stroke="#595959" stroke-width="0.15" text-anchor="end" textLength="16.7" lengthAdjust="spacingAndGlyphs" fill="#595959">-0.6</text>
<text x="48.34" y="438.80" font-size="9.7" stroke="#595959" stroke-width="0.15" text-anchor="middle" textLength="22.6" lengthAdjust="spacingAndGlyphs" fill="#595959">2020</text>
<text x="71.42" y="438.80" font-size="9.7" stroke="#595959" stroke-width="0.15" text-anchor="middle" textLength="22.6" lengthAdjust="spacingAndGlyphs" fill="#595959">2030</text>
<text x="94.49" y="438.80" font-size="9.7" stroke="#595959" stroke-width="0.15" text-anchor="middle" textLength="22.6" lengthAdjust="spacingAndGlyphs" fill="#595959">2040</text>
<text x="117.57" y="438.80" font-size="9.7" stroke="#595959" stroke-width="0.15" text-anchor="middle" textLength="22.6" lengthAdjust="spacingAndGlyphs" fill="#595959">2050</text>
<text x="140.65" y="438.80" font-size="9.7" stroke="#595959" stroke-width="0.15" text-anchor="middle" textLength="22.6" lengthAdjust="spacingAndGlyphs" fill="#595959">2060</text>
<text x="163.73" y="438.80" font-size="9.7" stroke="#595959" stroke-width="0.15" text-anchor="middle" textLength="22.6" lengthAdjust="spacingAndGlyphs" fill="#595959">2070</text>
<text x="186.81" y="438.80" font-size="9.7" stroke="#595959" stroke-width="0.15" text-anchor="middle" textLength="22.6" lengthAdjust="spacingAndGlyphs" fill="#595959">2080</text>
<text x="209.88" y="438.80" font-size="9.7" stroke="#595959" stroke-width="0.15" text-anchor="middle" textLength="22.6" lengthAdjust="spacingAndGlyphs" fill="#595959">2090</text>
<text x="232.96" y="438.80" font-size="9.7" stroke="#595959" stroke-width="0.15" text-anchor="middle" textLength="22.6" lengthAdjust="spacingAndGlyphs" fill="#595959">2100</text>
<text x="58.50" y="321.60" font-size="10.2" font-weight="bold" stroke="#595959" stroke-width="0.1" text-anchor="start" textLength="162.0" lengthAdjust="spacing" fill="#595959">RuleIV; Permit Trade (GtCO2/yr)</text>
<rect x="8.40" y="517.10" width="5.60" height="5.60" fill="#1ea0dc"/>
<text x="16.60" y="523.20" font-size="10.5" stroke="#595959" stroke-width="0.15" text-anchor="start" textLength="15.5" lengthAdjust="spacingAndGlyphs" fill="#595959">AFR</text>
<rect x="40.20" y="517.10" width="5.60" height="5.60" fill="#f27f2a"/>
<text x="48.40" y="523.20" font-size="10.5" stroke="#595959" stroke-width="0.15" text-anchor="start" textLength="15.9" lengthAdjust="spacingAndGlyphs" fill="#595959">AUS</text>
<rect x="72.00" y="517.10" width="5.60" height="5.60" fill="#a8a8a8"/>
<text x="80.20" y="523.20" font-size="10.5" stroke="#595959" stroke-width="0.15" text-anchor="start" textLength="16.4" lengthAdjust="spacingAndGlyphs" fill="#595959">CAN</text>
<rect x="103.80" y="517.10" width="5.60" height="5.60" fill="#ffc000"/>
<text x="112.00" y="523.20" font-size="10.5" stroke="#595959" stroke-width="0.15" text-anchor="start" textLength="13.3" lengthAdjust="spacingAndGlyphs" fill="#595959">CHI</text>
<rect x="135.60" y="517.10" width="5.60" height="5.60" fill="#1f72cc"/>
<text x="143.80" y="523.20" font-size="10.5" stroke="#595959" stroke-width="0.15" text-anchor="start" textLength="15.9" lengthAdjust="spacingAndGlyphs" fill="#595959">CSA</text>
<rect x="167.40" y="517.10" width="5.60" height="5.60" fill="#3fae49"/>
<text x="175.60" y="523.20" font-size="10.5" stroke="#595959" stroke-width="0.15" text-anchor="start" textLength="15.9" lengthAdjust="spacingAndGlyphs" fill="#595959">EEU</text>
<rect x="199.20" y="517.10" width="5.60" height="5.60" fill="#13609f"/>
<text x="207.40" y="523.20" font-size="10.5" stroke="#595959" stroke-width="0.15" text-anchor="start" textLength="15.5" lengthAdjust="spacingAndGlyphs" fill="#595959">FSU</text>
<rect x="231.00" y="517.10" width="5.60" height="5.60" fill="#c05008"/>
<text x="239.20" y="523.20" font-size="10.5" stroke="#595959" stroke-width="0.15" text-anchor="start" textLength="13.3" lengthAdjust="spacingAndGlyphs" fill="#595959">IND</text>
<rect x="8.40" y="537.40" width="5.60" height="5.60" fill="#666666"/>
<text x="16.60" y="543.50" font-size="10.5" stroke="#595959" stroke-width="0.15" text-anchor="start" textLength="14.6" lengthAdjust="spacingAndGlyphs" fill="#595959">JPN</text>
<rect x="40.20" y="537.40" width="5.60" height="5.60" fill="#a3710c"/>
<text x="48.40" y="543.50" font-size="10.5" stroke="#595959" stroke-width="0.15" text-anchor="start" textLength="16.8" lengthAdjust="spacingAndGlyphs" fill="#595959">MEA</text>
<rect x="72.00" y="537.40" width="5.60" height="5.60" fill="#143f84"/>
<text x="80.20" y="543.50" font-size="10.5" stroke="#595959" stroke-width="0.15" text-anchor="start" textLength="16.8" lengthAdjust="spacingAndGlyphs" fill="#595959">MEX</text>
<rect x="103.80" y="537.40" width="5.60" height="5.60" fill="#2a6e2a"/>
<text x="112.00" y="543.50" font-size="10.5" stroke="#595959" stroke-width="0.15" text-anchor="start" textLength="16.8" lengthAdjust="spacingAndGlyphs" fill="#595959">ODA</text>
<rect x="135.60" y="537.40" width="5.60" height="5.60" fill="#5cb4e6"/>
<text x="143.80" y="543.50" font-size="10.5" stroke="#595959" stroke-width="0.15" text-anchor="start" textLength="16.4" lengthAdjust="spacingAndGlyphs" fill="#595959">SKO</text>
<rect x="167.40" y="537.40" width="5.60" height="5.60" fill="#f9904f"/>
<text x="175.60" y="543.50" font-size="10.5" stroke="#595959" stroke-width="0.15" text-anchor="start" textLength="15.9" lengthAdjust="spacingAndGlyphs" fill="#595959">USA</text>
<rect x="199.20" y="537.40" width="5.60" height="5.60" fill="#b4b4b4"/>
<text x="207.40" y="543.50" font-size="10.5" stroke="#595959" stroke-width="0.15" text-anchor="start" textLength="18.1" lengthAdjust="spacingAndGlyphs" fill="#595959">WEU</text>
<rect x="305.50" y="342.60" width="211.50" height="1" fill="#d9d9d9"/>
<rect x="305.50" y="369.00" width="211.50" height="1" fill="#d9d9d9"/>
<rect x="305.50" y="395.40" width="211.50" height="1" fill="#d9d9d9"/>
<rect x="305.50" y="421.80" width="211.50" height="1" fill="#d9d9d9"/>
<rect x="305.50" y="448.20" width="211.50" height="1" fill="#d9d9d9"/>
<rect x="305.50" y="474.60" width="211.50" height="1" fill="#d9d9d9"/>
<rect x="305.50" y="501.00" width="211.50" height="1" fill="#d9d9d9"/>
<rect x="336.00" y="420.80" width="9.50" height="1.50" fill="#c05008"/>
<rect x="336.00" y="422.30" width="9.50" height="2.00" fill="#a8a8a8"/>
<rect x="359.50" y="419.20" width="9.50" height="3.10" fill="#c05008"/>
<rect x="359.50" y="422.30" width="9.50" height="2.00" fill="#ffc000"/>
<rect x="359.50" y="424.30" width="9.50" height="1.30" fill="#f9904f"/>
<rect x="383.00" y="421.80" width="9.50" height="0.50" fill="#f9904f"/>
<rect x="383.00" y="422.30" width="9.50" height="1.20" fill="#f9904f"/>
<rect x="406.50" y="420.50" width="9.50" height="1.80" fill="#143f84"/>
<rect x="406.50" y="419.30" width="9.50" height="1.20" fill="#2a6e2a"/>
<rect x="406.50" y="422.30" width="9.50" height="2.30" fill="#ffc000"/>
<rect x="406.50" y="424.60" width="9.50" height="1.10" fill="#f9904f"/>
<rect x="430.00" y="421.70" width="9.50" height="0.60" fill="#143f84"/>
<rect x="430.00" y="415.10" width="9.50" height="6.60" fill="#2a6e2a"/>
<rect x="430.00" y="422.30" width="9.50" height="3.60" fill="#ffc000"/>
<rect x="430.00" y="425.90" width="9.50" height="0.90" fill="#a3710c"/>
<rect x="430.00" y="426.80" width="9.50" height="2.20" fill="#f9904f"/>
<rect x="430.00" y="429.00" width="9.50" height="1.00" fill="#b4b4b4"/>
<rect x="453.50" y="418.00" width="9.50" height="4.30" fill="#1f72cc"/>
<rect x="453.50" y="415.80" width="9.50" height="2.20" fill="#c05008"/>
<rect x="453.50" y="414.40" width="9.50" height="1.40" fill="#143f84"/>
<rect x="453.50" y="402.50" width="9.50" height="11.90" fill="#2a6e2a"/>
<rect x="453.50" y="422.30" width="9.50" height="9.60" fill="#ffc000"/>
<rect x="453.50" y="431.90" width="9.50" height="1.60" fill="#13609f"/>
<rect x="453.50" y="433.50" width="9.50" height="1.50" fill="#666666"/>
<rect x="453.50" y="435.00" width="9.50" height="1.50" fill="#a3710c"/>
<rect x="453.50" y="436.50" width="9.50" height="4.00" fill="#f9904f"/>
<rect x="453.50" y="440.50" width="9.50" height="2.00" fill="#b4b4b4"/>
<rect x="477.00" y="413.10" width="9.50" height="9.20" fill="#1ea0dc"/>
<rect x="477.00" y="402.70" width="9.50" height="10.40" fill="#1f72cc"/>
<rect x="477.00" y="397.60" width="9.50" height="5.10" fill="#c05008"/>
<rect x="477.00" y="394.60" width="9.50" height="3.00" fill="#143f84"/>
<rect x="477.00" y="381.10" width="9.50" height="13.50" fill="#2a6e2a"/>
<rect x="477.00" y="422.30" width="9.50" height="19.40" fill="#ffc000"/>
<rect x="477.00" y="441.70" width="9.50" height="2.40" fill="#13609f"/>
<rect x="477.00" y="444.10" width="9.50" height="1.60" fill="#666666"/>
<rect x="477.00" y="445.70" width="9.50" height="3.20" fill="#a3710c"/>
<rect x="477.00" y="448.90" width="9.50" height="0.70" fill="#5cb4e6"/>
<rect x="477.00" y="449.60" width="9.50" height="8.30" fill="#f9904f"/>
<rect x="477.00" y="457.90" width="9.50" height="6.00" fill="#b4b4b4"/>
<rect x="500.50" y="405.90" width="9.50" height="16.40" fill="#1ea0dc"/>
<rect x="500.50" y="386.50" width="9.50" height="19.40" fill="#1f72cc"/>
<rect x="500.50" y="371.00" width="9.50" height="15.50" fill="#c05008"/>
<rect x="500.50" y="368.40" width="9.50" height="2.60" fill="#143f84"/>
<rect x="500.50" y="356.30" width="9.50" height="12.10" fill="#2a6e2a"/>
<rect x="500.50" y="422.30" width="9.50" height="31.80" fill="#ffc000"/>
<rect x="500.50" y="454.10" width="9.50" height="3.10" fill="#13609f"/>
<rect x="500.50" y="457.20" width="9.50" height="2.70" fill="#666666"/>
<rect x="500.50" y="459.90" width="9.50" height="5.30" fill="#a3710c"/>
<rect x="500.50" y="465.20" width="9.50" height="1.10" fill="#5cb4e6"/>
<rect x="500.50" y="466.30" width="9.50" height="13.10" fill="#f9904f"/>
<rect x="500.50" y="479.40" width="9.50" height="9.50" fill="#b4b4b4"/>
<rect x="305.50" y="422.00" width="211.50" height="1.10" fill="#d9d9d9"/>
<text x="295.00" y="347.66" font-size="10.5" font-weight="bold" stroke="#595959" stroke-width="0.1" text-anchor="end" textLength="13.5" lengthAdjust="spacingAndGlyphs" fill="#595959">1.5</text>
<text x="295.00" y="374.06" font-size="10.5" font-weight="bold" stroke="#595959" stroke-width="0.1" text-anchor="end" textLength="5.4" lengthAdjust="spacingAndGlyphs" fill="#595959">1</text>
<text x="295.00" y="400.46" font-size="10.5" font-weight="bold" stroke="#595959" stroke-width="0.1" text-anchor="end" textLength="13.5" lengthAdjust="spacingAndGlyphs" fill="#595959">0.5</text>
<text x="295.00" y="426.86" font-size="10.5" font-weight="bold" stroke="#595959" stroke-width="0.1" text-anchor="end" textLength="5.4" lengthAdjust="spacingAndGlyphs" fill="#595959">0</text>
<text x="295.00" y="453.26" font-size="10.5" font-weight="bold" stroke="#595959" stroke-width="0.1" text-anchor="end" textLength="16.7" lengthAdjust="spacingAndGlyphs" fill="#595959">-0.5</text>
<text x="295.00" y="479.66" font-size="10.5" font-weight="bold" stroke="#595959" stroke-width="0.1" text-anchor="end" textLength="8.6" lengthAdjust="spacingAndGlyphs" fill="#595959">-1</text>
<text x="295.00" y="506.06" font-size="10.5" font-weight="bold" stroke="#595959" stroke-width="0.1" text-anchor="end" textLength="16.7" lengthAdjust="spacingAndGlyphs" fill="#595959">-1.5</text>
<text x="317.25" y="440.40" font-size="9.4" font-weight="bold" stroke="#595959" stroke-width="0.1" text-anchor="middle" textLength="21.7" lengthAdjust="spacingAndGlyphs" fill="#595959">2020</text>
<text x="340.75" y="440.40" font-size="9.4" font-weight="bold" stroke="#595959" stroke-width="0.1" text-anchor="middle" textLength="21.7" lengthAdjust="spacingAndGlyphs" fill="#595959">2030</text>
<text x="364.25" y="440.40" font-size="9.4" font-weight="bold" stroke="#595959" stroke-width="0.1" text-anchor="middle" textLength="21.7" lengthAdjust="spacingAndGlyphs" fill="#595959">2040</text>
<text x="387.75" y="440.40" font-size="9.4" font-weight="bold" stroke="#595959" stroke-width="0.1" text-anchor="middle" textLength="21.7" lengthAdjust="spacingAndGlyphs" fill="#595959">2050</text>
<text x="411.25" y="440.40" font-size="9.4" font-weight="bold" stroke="#595959" stroke-width="0.1" text-anchor="middle" textLength="21.7" lengthAdjust="spacingAndGlyphs" fill="#595959">2060</text>
<text x="434.75" y="440.40" font-size="9.4" font-weight="bold" stroke="#595959" stroke-width="0.1" text-anchor="middle" textLength="21.7" lengthAdjust="spacingAndGlyphs" fill="#595959">2070</text>
<text x="458.25" y="440.40" font-size="9.4" font-weight="bold" stroke="#595959" stroke-width="0.1" text-anchor="middle" textLength="21.7" lengthAdjust="spacingAndGlyphs" fill="#595959">2080</text>
<text x="481.75" y="440.40" font-size="9.4" font-weight="bold" stroke="#595959" stroke-width="0.1" text-anchor="middle" textLength="21.7" lengthAdjust="spacingAndGlyphs" fill="#595959">2090</text>
<text x="505.25" y="440.40" font-size="9.4" font-weight="bold" stroke="#595959" stroke-width="0.1" text-anchor="middle" textLength="21.7" lengthAdjust="spacingAndGlyphs" fill="#595959">2100</text>
<text x="314.40" y="317.50" font-size="10.2" font-weight="bold" stroke="#595959" stroke-width="0.1" text-anchor="start" textLength="173.0" lengthAdjust="spacing" fill="#595959">Rule III; Capital Transfers in trillion</text>
<text x="383.20" y="332.50" font-size="10.2" font-weight="bold" stroke="#595959" stroke-width="0.1" text-anchor="start" textLength="35.1" lengthAdjust="spacing" fill="#595959">USD/yr</text>
<rect x="276.30" y="514.10" width="5.60" height="5.60" fill="#1ea0dc"/>
<text x="284.50" y="520.20" font-size="10" font-weight="bold" stroke="#595959" stroke-width="0.1" text-anchor="start" textLength="15.9" lengthAdjust="spacingAndGlyphs" fill="#595959">AFR</text>
<rect x="308.40" y="514.10" width="5.60" height="5.60" fill="#f27f2a"/>
<text x="316.60" y="520.20" font-size="10" font-weight="bold" stroke="#595959" stroke-width="0.1" text-anchor="start" textLength="16.4" lengthAdjust="spacingAndGlyphs" fill="#595959">AUS</text>
<rect x="340.50" y="514.10" width="5.60" height="5.60" fill="#a8a8a8"/>
<text x="348.70" y="520.20" font-size="10" font-weight="bold" stroke="#595959" stroke-width="0.1" text-anchor="start" textLength="16.8" lengthAdjust="spacingAndGlyphs" fill="#595959">CAN</text>
<rect x="372.60" y="514.10" width="5.60" height="5.60" fill="#ffc000"/>
<text x="380.80" y="520.20" font-size="10" font-weight="bold" stroke="#595959" stroke-width="0.1" text-anchor="start" textLength="13.3" lengthAdjust="spacingAndGlyphs" fill="#595959">CHI</text>
<rect x="404.70" y="514.10" width="5.60" height="5.60" fill="#1f72cc"/>
<text x="412.90" y="520.20" font-size="10" font-weight="bold" stroke="#595959" stroke-width="0.1" text-anchor="start" textLength="16.4" lengthAdjust="spacingAndGlyphs" fill="#595959">CSA</text>
<rect x="436.80" y="514.10" width="5.60" height="5.60" fill="#3fae49"/>
<text x="445.00" y="520.20" font-size="10" font-weight="bold" stroke="#595959" stroke-width="0.1" text-anchor="start" textLength="15.9" lengthAdjust="spacingAndGlyphs" fill="#595959">EEU</text>
<rect x="468.90" y="514.10" width="5.60" height="5.60" fill="#13609f"/>
<text x="477.10" y="520.20" font-size="10" font-weight="bold" stroke="#595959" stroke-width="0.1" text-anchor="start" textLength="15.5" lengthAdjust="spacingAndGlyphs" fill="#595959">FSU</text>
<rect x="501.00" y="514.10" width="5.60" height="5.60" fill="#c05008"/>
<text x="509.20" y="520.20" font-size="10" font-weight="bold" stroke="#595959" stroke-width="0.1" text-anchor="start" textLength="13.3" lengthAdjust="spacingAndGlyphs" fill="#595959">IND</text>
<rect x="276.30" y="534.30" width="5.60" height="5.60" fill="#666666"/>
<text x="284.50" y="540.40" font-size="10" font-weight="bold" stroke="#595959" stroke-width="0.1" text-anchor="start" textLength="15.1" lengthAdjust="spacingAndGlyphs" fill="#595959">JPN</text>
<rect x="308.40" y="534.30" width="5.60" height="5.60" fill="#a3710c"/>
<text x="316.60" y="540.40" font-size="10" font-weight="bold" stroke="#595959" stroke-width="0.1" text-anchor="start" textLength="17.2" lengthAdjust="spacingAndGlyphs" fill="#595959">MEA</text>
<rect x="340.50" y="534.30" width="5.60" height="5.60" fill="#143f84"/>
<text x="348.70" y="540.40" font-size="10" font-weight="bold" stroke="#595959" stroke-width="0.1" text-anchor="start" textLength="16.8" lengthAdjust="spacingAndGlyphs" fill="#595959">MEX</text>
<rect x="372.60" y="534.30" width="5.60" height="5.60" fill="#2a6e2a"/>
<text x="380.80" y="540.40" font-size="10" font-weight="bold" stroke="#595959" stroke-width="0.1" text-anchor="start" textLength="17.2" lengthAdjust="spacingAndGlyphs" fill="#595959">ODA</text>
<rect x="404.70" y="534.30" width="5.60" height="5.60" fill="#5cb4e6"/>
<text x="412.90" y="540.40" font-size="10" font-weight="bold" stroke="#595959" stroke-width="0.1" text-anchor="start" textLength="16.8" lengthAdjust="spacingAndGlyphs" fill="#595959">SKO</text>
<rect x="436.80" y="534.30" width="5.60" height="5.60" fill="#f9904f"/>
<text x="445.00" y="540.40" font-size="10" font-weight="bold" stroke="#595959" stroke-width="0.1" text-anchor="start" textLength="16.4" lengthAdjust="spacingAndGlyphs" fill="#595959">USA</text>
<rect x="468.90" y="534.30" width="5.60" height="5.60" fill="#b4b4b4"/>
<text x="477.10" y="540.40" font-size="10" font-weight="bold" stroke="#595959" stroke-width="0.1" text-anchor="start" textLength="18.1" lengthAdjust="spacingAndGlyphs" fill="#595959">WEU</text>
</g>
</svg>
</body></html>
